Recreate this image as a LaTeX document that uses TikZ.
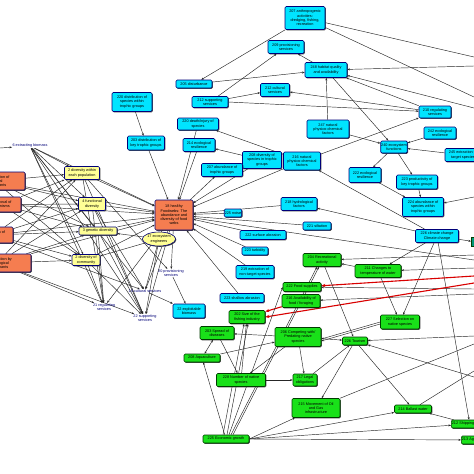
\documentclass[tikz,border=0pt]{standalone}
\usepackage{fontspec}
\setmainfont{Liberation Sans}
\usetikzlibrary{arrows.meta,shadows,shapes.geometric}
\definecolor{cyanf}{RGB}{0,228,255}
\definecolor{greenf}{RGB}{25,225,25}
\definecolor{orangef}{RGB}{245,125,80}
\definecolor{yellowf}{RGB}{255,255,150}
\definecolor{navyb}{RGB}{0,0,120}
\definecolor{dgreen}{RGB}{0,60,0}
\definecolor{tealf}{RGB}{0,150,120}
\pgfdeclarelayer{bg}
\pgfsetlayers{bg,main}
\newcommand\dgfont{\fontsize{3.8}{4.3}\selectfont}
\tikzset{
  base/.style={rounded corners=1.2pt, line width=0.6pt, align=center, inner sep=0.5pt,
    font=\dgfont, text=black,
    drop shadow={shadow xshift=0.8pt, shadow yshift=-0.8pt, fill=black!85, opacity=0.85}},
  cb/.style={base, fill=cyanf, draw=navyb},
  gb/.style={base, fill=greenf, draw=dgreen},
  ob/.style={base, fill=orangef, draw=navyb},
  yb/.style={base, fill=yellowf, draw=navyb},
  tx/.style={text=navyb, align=center, inner sep=0.3pt, font=\dgfont},
  sz/.style 2 args={minimum width=#1pt, minimum height=#2pt},
  ar/.style={-{Stealth[length=2.6pt,width=2pt]}, line width=0.45pt, black!85},
  ab/.style={{Stealth[length=2.6pt,width=2pt]}-{Stealth[length=2.6pt,width=2pt]}, line width=0.45pt, black!85},
  ln/.style={line width=0.45pt, black!85},
  rr/.style={-{Stealth[length=4pt,width=3.2pt]}, line width=1.1pt, red!85!black},
}
\begin{document}
\begin{tikzpicture}[x=1pt,y=-1pt]
\useasboundingbox (0,0) rectangle (474,474);
\clip (0,0) rectangle (474,474);

% ---------- cyan nodes ----------
\node[cb, sz={40}{23}] (a207) at (305,18) {207 anthropogenic\\activities:\\dredging, fishing,\\recreation};
\node[cb, sz={36}{13}] (p209) at (286,47) {209 provisioning\\services};
\node[cb, sz={42}{15}] (h248) at (326,70) {248 habitat quality\\and availability};
\node[cb, sz={36}{8}] (d205) at (194,84) {205 disturbance};
\node[cb, sz={36}{11}] (s212) at (210,102) {212 supporting\\services};
\node[cb, sz={29}{13}] (c212) at (275,90) {212 cultural\\services};
\node[cb, sz={32}{12}] (r210) at (435,112) {210 regulating\\services};
\node[cb, sz={42}{18}] (n247) at (328,129) {247 natural\\physico-chemical\\factors};
\node[cb, sz={40}{19}] (dw220) at (132,102) {220 distribution of\\species within\\trophic groups};
\node[cb, sz={37}{14}] (dk203) at (146,143) {203 distribution of\\key trophic groups};
\node[cb, sz={41}{12}] (di220) at (198,124) {220 death/injury of\\species};
\node[cb, sz={32}{13}] (er214) at (199,145) {214 ecological\\resilience};
\node[cb, sz={39}{17}] (dv208) at (262,160) {208 diversity of\\species in trophic\\groups};
\node[cb, sz={37}{18}] (n216) at (302,161) {216 natural\\physico-chemical\\factors};
\node[cb, sz={41}{13}] (ab207) at (222,170) {207 abundance of\\trophic groups};
\node[cb, sz={36}{13}] (hy218) at (299,204) {218 hydrological\\factors};
\node[cb, sz={13}{8}] (no225) at (233,213) {225 noise};
\node[cb, sz={28}{8}] (si221) at (317,226) {221 siltation};
\node[cb, sz={46}{9}] (sa222) at (263,235) {222 surface abrasion};
\node[cb, sz={26}{8}] (tu223) at (255,251) {223 turbidity};
\node[cb, sz={38}{13}] (ex219) at (255,272) {219 extraction of\\non-target species};
\node[cb, sz={44}{9}] (sh223) at (242,298) {223 shallow abrasion};
\node[cb, sz={32}{14}] (eb22) at (189,311) {22 exploitable\\biomass};
\node[cb, sz={32}{15}] (er222) at (365,175) {222 ecological\\resilience};
\node[cb, sz={41}{14}] (pk223) at (417,182) {223 productivity of\\key trophic groups};
\node[cb, sz={41}{19}] (as224) at (423,207) {224 abundance of\\species within\\trophic groups};
\node[cb, sz={43}{13}] (cc226) at (437,236) {226 climate change\\Climate change};
\node[cb, sz={26}{12}] (ef240) at (394,147) {240 ecosystem\\functions};
\node[cb, sz={32}{12}] (er242) at (440,133) {242 ecological\\resilience};
\node[cb, sz={36}{13}] (et245) at (463,155) {245 extraction of\\target species};
\node[fill=tealf, draw=dgreen, line width=0.5pt, minimum width=10pt, minimum height=9pt, anchor=west, inner sep=0pt] (tq) at (471,242) {};

% ---------- green nodes ----------
\node[gb, sz={38}{13}] (re204) at (322,260) {204 Recreational\\activity};
\node[gb, sz={46}{13}] (ct211) at (378,271) {211 Changes to\\temperature of water};
\node[gb, sz={38}{9}] (fs222) at (302,287) {222 Food supplies};
\node[gb, sz={38}{13}] (af216) at (301,301) {216 Availability of\\food / foraging};
\node[gb, sz={36}{13}] (sf202) at (247,317) {202 Size of the\\fishing industry};
\node[gb, sz={34}{13}] (sd203) at (217,333) {203 Spread of\\diseases};
\node[gb, sz={46}{19}] (cp206) at (298,337) {206 Competing with/\\Predating native\\species};
\node[gb, sz={36}{8}] (aq208) at (202,358) {208 Aquaculture};
\node[gb, sz={49}{13}] (nn228) at (241,380) {228 Number of native\\species};
\node[gb, sz={24}{12}] (lo217) at (305,380) {217 Legal\\obligations};
\node[gb, sz={48}{19}] (mo215) at (316,408) {215 Movement of Oil\\and Gas\\infrastructure};
\node[gb, sz={46}{8}] (eg225) at (226,439) {225 Economic growth};
\node[gb, sz={25}{8}] (to226) at (355,341) {226 Tourism};
\node[gb, sz={39}{14}] (sn227) at (400,322) {227 Selection on\\native species};
\node[gb, sz={37}{8}] (bw214) at (413,409) {214 Ballast water};
\node[gb, minimum height=8pt, text width=36pt, align=left, anchor=west] (sp212) at (451,424) {212 Shipping};
\node[gb, minimum height=8pt, text width=34pt, align=left, anchor=west] (aa213) at (461,440) {213 Aggregates};

% ---------- orange / yellow ----------
\node[ob, sz={60}{18}] (o1) at (-5,181) {Contamination of\\chemical\\contaminants};
\node[ob, sz={40}{15}] (o2) at (1,204.5) {5 removal of\\organisms};
\node[ob, sz={40}{16}] (o3) at (-7,235) {Introduction of\\species};
\node[ob, sz={68}{18}] (o4) at (-3,263) {Contamination by\\non-biological\\contaminants};
\node[ob, sz={38}{30}] (h18) at (174,215) {18 healthy\\Foodwebs: The\\abundance and\\diversity of food\\webs};
\node[yb, sz={35}{13}] (y2w) at (82,173) {2 diversity within\\each population};
\node[yb, sz={27}{13}] (y4f) at (92,204) {4 functional\\diversity};
\node[yb, sz={38}{8}] (y3g) at (98,231) {3 genetic diversity};
\node[yb, sz={28}{11}] (y2c) at (86,260) {2 diversity of\\community};
\node[yb, ellipse, rounded corners=0pt, inner sep=0pt, sz={33}{14}] (e17) at (159,239) {17 ecosystem\\engineers};

% ---------- text nodes ----------
\node[tx] (t6) at (30,146) {6 extracting biomass};
\node[tx] (t21) at (104,307) {21 regulating\\services};
\node[tx] (t20) at (171,273) {20 provisioning\\services};
\node[tx] (t19) at (145,291) {19 cultural services};
\node[tx] (t22) at (145,318) {22 supporting\\services};

% ---------- free ends ----------
\coordinate (L1) at (0,148);
\coordinate (R1) at (474,57);
\coordinate (R2) at (474,97);
\coordinate (R3) at (474,66);
\coordinate (R4) at (474,108);
\coordinate (R5) at (474,197);
\coordinate (R7) at (474,260);
\coordinate (R8) at (474,268);
\coordinate (R9) at (474,255);
\coordinate (R10) at (474,289);
\coordinate (R11) at (474,294);
\coordinate (Rr1) at (474,276);
\coordinate (Rr2) at (474,283);
\coordinate (R12) at (474,336);
\coordinate (R13) at (474,377);
\coordinate (R14) at (474,344);
\coordinate (R15) at (474,371);

\begin{pgfonlayer}{bg}
\fill[white] (0,0) rectangle (474,474);
\clip (0,0) rectangle (474,474);
% top right
\draw[ar] (a207) -- (d205);
\draw[ar] (s212) -- (p209);
\draw[ar] (d205) -- (h248);
\draw[ar] (h248) -- (p209);
\draw[ar] (s212) -- (c212);
\draw[ar] (s212.east) -- (r210);
\draw[ar] (r210) -- (c212);
\draw[ln] (a207) -- (R1);
\draw[ln] (a207) -- (R2);
\draw[ar] (R3) -- (h248);
\draw[ar] (R4) -- (h248);
\draw[ar] (r210) -- (h248);
\draw[ar] (n247) -- (h248);
\draw[ar] (h248) -- (ef240);
\draw[ar] (n247) -- (ef240);
\draw[ar] (n216) -- (r210);
\draw[ar] (er242) -- (ef240);
\draw[ar] (et245) -- (ef240);
\draw[ar] (ef240) -- (er222);
\draw[ar] (ef240) -- (pk223);
\draw[ar] (pk223) -- (as224);
\draw[ar] (er222) -- (as224);
\draw[ar] (R5) -- (as224);
\draw[ar] (cc226) -- (n216);
\draw[ar] (cc226) -- (hy218);
\draw[ar] (cc226) -- (tq);
\draw[ln] (h18) -- (R7);
% climate and green right
\draw[ar] (cc226) -- (ct211);
\draw[ar] (cc226) -- (sn227);
\draw[ar] (cc226) -- (sp212);
\draw[ar] (ct211) -- (re204);
\draw[ar] (R8) -- (ct211);
\draw[ar] (R9) -- (re204);
\draw[ar] (R10) -- (fs222);
\draw[ar] (R11) -- (af216);
\draw[rr] (Rr1) -- (fs222);
\draw[rr] (Rr2) -- (sf202.east);
\draw[rr] (af216) -- (sf202);
% cyan to 18
\draw[ar] (dw220) -- (dk203);
\draw[ar] (dk203) -- (h18);
\draw[ar] (di220) -- (h18);
\draw[ar] (er214) -- (h18);
\draw[ar] (h18) -- (ab207);
\draw[ar] (dv208) -- (h18);
\draw[ar] (n216) -- (h18);
\draw[ar] (hy218) -- (h18);
\draw[ar] (no225) -- (h18);
\draw[ar] (si221) -- (h18);
\draw[ar] (sa222) -- (h18);
\draw[ar] (tu223) -- (h18);
\draw[ar] (ex219) -- (h18);
\draw[ar] (sh223) -- (h18);
\draw[ar] (dv208) -- (er214);
\draw[ar] (n216) -- (di220);
\draw[ar] (dv208) -- (ab207);
% left mesh
\draw[ar] (L1) -- (t6);
\foreach \s in {o1,o2,o3,o4,t6}
  \foreach \t in {y2w,y4f,y3g,y2c,h18}
    \draw[ar] (\s) -- (\t);
\foreach \s in {y2w,y4f,y3g,y2c} {
  \draw[ar] (\s) -- (h18);
  \draw[ar] (\s) -- (t21);
  \draw[ar] (\s) -- (t22);
}
\draw[ar] (y4f) -- (t19);
\draw[ar] (y2w) -- (t20);
\draw[ar] (t6) -- (t21);
\draw[ar] (t6) -- (t22);
\draw[ar] (t6) -- (t19);
\draw[ar] (h18) -- (t20);
\draw[ar] (h18) -- (t19);
\draw[ar] (h18) -- (t22);
\draw[ar] (h18) -- (t21);
\draw[ar] (e17) -- (y2c);
\draw[ar] (e17) -- (t22);
\draw[ar] (e17) -- (t19);
\draw[ar] (e17) -- (y3g);
\draw[ar] (o4) -- (t21);
\draw[ar] (o4) -- (t22);
\draw[ar] (o3) -- (t19);
\draw[ar] (t20) -- (eb22);
\draw[ar] (t19) -- (eb22);
% green
\draw[ar] (eg225) -- (aq208);
\draw[ar] ([xshift=-3pt]eg225.north) -- ([xshift=-3pt]sf202.south);
\draw[ar] ([xshift=1pt]eg225.north) -- ([xshift=1pt]sf202.south);
\draw[ar] ([xshift=3pt]eg225.north) -- (fs222.west);
\draw[ar] ([xshift=5pt]eg225.north) -- ([xshift=-5pt]re204.south);
\draw[ar] ([xshift=7pt]eg225.north) -- ([xshift=-3pt]re204.south);
\draw[ar] (eg225.east) -- (mo215);
\draw[ar] (eg225.east) -- (bw214);
\draw[ar] (eg225.east) -- (sp212);
\draw[ar] (eg225.east) -- (aa213);
\draw[ab] (aq208) -- (sd203);
\draw[ar] (sd203) -- (nn228);
\draw[ar] (cp206) -- (sd203);
\draw[ar] (aq208) -- (cp206);
\draw[ar] (cp206) -- (nn228);
\draw[ar] (cp206) -- (lo217);
\draw[ar] (nn228) -- (lo217);
\draw[ar] (nn228) -- (sf202);
\draw[ar] ([yshift=-2pt]sn227.west) -- ([yshift=-4pt]cp206.east);
\draw[ar] ([yshift=0pt]sn227.west) -- ([yshift=-2pt]cp206.east);
\draw[ar] (cp206) -- (to226);
\draw[ar] (re204) -- (to226);
\draw[ar] (R12) -- (to226);
\draw[ar] (R13) -- (to226);
\draw[ar] (lo217) -- (to226);
\draw[ar] (to226) -- (bw214);
\draw[ar] (to226) -- (mo215);
\draw[ln] (mo215) -- (R14);
\draw[ln] (bw214) -- (R15);
\draw[ar] (sp212) -- (bw214);
\draw[ar] (ct211) -- (sn227);
\end{pgfonlayer}
\end{tikzpicture}
\end{document}
